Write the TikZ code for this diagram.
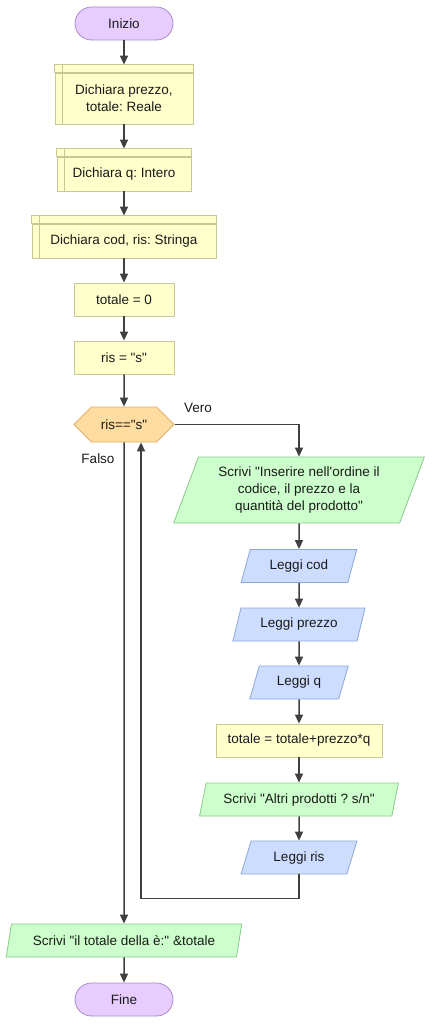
\documentclass[tikz,border=0pt]{standalone}
\usepackage{fontspec}
\setmainfont{Liberation Sans}[Ligatures=TeXOff]
\usetikzlibrary{shapes.geometric,shapes.symbols,arrows.meta}
\frenchspacing

\definecolor{txtcol}{HTML}{1A1A1A}
\definecolor{arrcol}{HTML}{404040}
\definecolor{termfill}{HTML}{E6CCFF}
\definecolor{termline}{HTML}{A88CC8}
\definecolor{procfill}{HTML}{FFFFCC}
\definecolor{procline}{HTML}{C8C896}
\definecolor{condfill}{HTML}{FFDCA0}
\definecolor{condline}{HTML}{E0B070}
\definecolor{outfill}{HTML}{CCFFCC}
\definecolor{outline}{HTML}{8CC88C}
\definecolor{infill}{HTML}{CCDDFF}
\definecolor{inline}{HTML}{8CA8D8}

\tikzset{
  base/.style={text=txtcol, line width=0.8pt, align=center, inner sep=0pt},
  term/.style={base, draw=termline, fill=termfill, rounded corners=16.5pt,
    minimum width=98pt, minimum height=33pt},
  proc/.style={base, draw=procline, fill=procfill, minimum width=100pt, minimum height=33pt},
  decl/.style={proc},
  declline/.style={draw=procline, fill=procfill, line width=0.8pt},
  cond/.style={base, signal, signal to=west and east, signal pointer angle=90,
    draw=condline, fill=condfill, minimum width=100pt, minimum height=35pt},
  io/.style={base, trapezium, trapezium left angle=67, trapezium right angle=113,
    trapezium stretches=true, minimum height=33pt},
  outp/.style={io, draw=outline, fill=outfill},
  inp/.style={io, draw=inline, fill=infill},
  arr/.style={draw=arrcol, line width=1.5pt, -{Triangle[length=9pt,width=8pt]}},
}

\begin{document}
\begin{tikzpicture}[x=1pt,y=-1pt,font=\fontsize{13.5}{17}\selectfont]
\path[fill=white,use as bounding box] (0,0) rectangle (432,1024);

\node[term] (ini) at (124,23.5) {Inizio};
\node[decl, minimum width=138pt, minimum height=51pt] (dp) at (124,98.5) {Dichiara prezzo,\\ totale: Reale};
\node[decl, minimum width=134pt, minimum height=34pt] (dq) at (124,174) {Dichiara q: Intero};
\node[decl, minimum width=184pt, minimum height=34pt] (dc) at (124,241) {Dichiara cod, ris: Stringa};
\foreach \n in {dp,dq,dc} {
  \draw[declline] (\n.north west) rectangle ([yshift=8pt]\n.north east);
  \draw[declline] ([xshift=8pt]\n.south west) -- ([xshift=8pt,yshift=8pt]\n.north west);
  \coordinate (\n-top) at ([yshift=8pt]\n.north);
}
\node[proc] (tot0) at (124,299.5) {totale = 0};
\node[proc] (ris0) at (124,357.5) {ris = "s"};
\node[cond] (dec) at (124,424.5) {ris=="s"};

\node[outp, minimum width=251pt, minimum height=66pt] (scr1) at (299,490)
  {Scrivi "Inserire nell'ordine il\\ codice, il prezzo e la\\ quantità del prodotto"};
\node[inp, minimum width=116pt] (lcod) at (299,566) {Leggi cod};
\node[inp, minimum width=133pt] (lpre) at (299,624.5) {Leggi prezzo};
\node[inp, minimum width=99pt] (lq) at (299,682.5) {Leggi q};
\node[proc, minimum width=166pt] (tot1) at (299,740.5) {totale = totale+prezzo*q};
\node[outp, minimum width=199pt] (scr2) at (299,799.5) {Scrivi "Altri prodotti ? s/n"};
\node[inp, minimum width=116pt] (lris) at (299,857.5) {Leggi ris};

\node[outp, minimum width=236pt] (scr3) at (124,940.5) {Scrivi "il totale della è:" \&totale};
\node[term] (fine) at (124,999.5) {Fine};

\node[base] (vero) at (198,408) {Vero};
\node[base] (falso) at (98,459) {Falso};

\foreach \a/\b in {ini/dp-top,dp/dq-top,dq/dc-top,dc/tot0,tot0/ris0,ris0/dec,
  scr1/lcod,lcod/lpre,lpre/lq,lq/tot1,tot1/scr2,scr2/lris,dec/scr3,scr3/fine}
  \draw[arr] (\a) -- (\b);
\draw[arr] (dec.east) -| (scr1.north);
\draw[arr] (lris.south) -- ++(0,24) -| ([xshift=17pt]dec.south);

\end{tikzpicture}
\end{document}
